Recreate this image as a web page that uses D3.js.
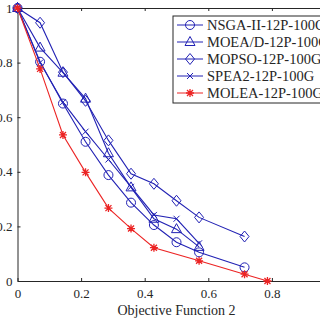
<!DOCTYPE html>
<html lang="en">
<head>
<meta charset="UTF-8"/>
<title>pareto fronts</title>
<script src="https://d3js.org/d3.v7.min.js"></script>
<style>
  body { margin: 0; background: #fff; }
  text { font-family: "Liberation Serif", "Times New Roman", serif; fill: #262626; }
</style>
</head>
<body>
<svg id="chart" width="320" height="320"></svg>
<script>
// series data
var seriesNames = ["NSGA-II-12P-100G", "MOEA/D-12P-100G", "MOPSO-12P-100G", "SPEA2-12P-100G", "MOLEA-12P-100G"]
var nsgaX  = [0, 0.071, 0.143, 0.214, 0.286, 0.357, 0.429, 0.5, 0.571, 0.714]
var nsgaY  = [1, 0.803, 0.65, 0.51, 0.388, 0.287, 0.205, 0.142, 0.105, 0.05]
var moeadX = [0, 0.071, 0.143, 0.214, 0.286, 0.357, 0.429, 0.5, 0.571]
var moeadY = [1, 0.855, 0.763, 0.668, 0.468, 0.343, 0.228, 0.19, 0.125]
var mopsoX = [0, 0.071, 0.143, 0.214, 0.286, 0.357, 0.429, 0.5, 0.571, 0.714]
var mopsoY = [1, 0.946, 0.765, 0.66, 0.515, 0.393, 0.356, 0.294, 0.233, 0.163]
var speaX  = [0, 0.071, 0.143, 0.214, 0.286, 0.357, 0.429, 0.5, 0.571]
var speaY  = [1, 0.80, 0.655, 0.547, 0.445, 0.345, 0.242, 0.228, 0.138]
var moleaX = [0, 0.071, 0.143, 0.214, 0.286, 0.357, 0.429, 0.571, 0.714, 0.786]
var moleaY = [1, 0.777, 0.535, 0.398, 0.267, 0.192, 0.122, 0.074, 0.025, 0]
var xTicks = [0, 0.2, 0.4, 0.6, 0.8]
var yTicks = [0, 0.2, 0.4, 0.6, 0.8, 1]

var blue = "#2222b4", red = "#ec2424", axisCol = "#262626"
var markers = ["circle", "triangle", "diamond", "cross", "star"]
var colors = [blue, blue, blue, blue, red]
var xsAll = [nsgaX, moeadX, mopsoX, speaX, moleaX]
var ysAll = [nsgaY, moeadY, mopsoY, speaY, moleaY]

var padL = 17.5, padT = 8, padB = 281, padR = 335.5

var svg = d3.select("#chart")

var x = d3.scaleLinear().domain([0, 1]).range([padL, padR])
var y = d3.scaleLinear().domain([0, 1]).range([padB, padT])

// axes, MATLAB style box with inward ticks
var gx = svg.append("g").attr("transform", "translate(0," + padB + ")")
  .call(d3.axisBottom(x).tickValues(xTicks).tickSizeInner(-3).tickSizeOuter(0).tickPadding(8).tickFormat(d3.format("")))
var gxt = svg.append("g").attr("transform", "translate(0," + padT + ")")
  .call(d3.axisTop(x).tickValues(xTicks).tickSizeInner(-3).tickSizeOuter(0).tickFormat(""))
var gy = svg.append("g").attr("transform", "translate(" + padL + ",0)")
  .call(d3.axisLeft(y).tickValues(yTicks).tickSizeInner(-3).tickSizeOuter(0).tickPadding(5).tickFormat(d3.format("")))
;[gx, gxt, gy].forEach(function(g) {
  g.selectAll("path,line").attr("stroke", axisCol).attr("stroke-width", 1)
  g.selectAll("text").style("font-size", "13px").attr("fill", axisCol)
    .style("font-family", "Liberation Serif, Times New Roman, serif")
})

svg.append("text").attr("x", x(0.5)).attr("y", 315)
  .attr("text-anchor", "middle").style("font-size", "14px")
  .text("Objective Function 2")

function drawMarker(g, type, cx, cy, col) {
  if (type == "circle") {
    g.append("circle").attr("cx", cx).attr("cy", cy).attr("r", 4.5)
      .attr("fill", "none").attr("stroke", col)
  } else if (type == "triangle") {
    g.append("path").attr("d", "M" + cx + "," + (cy - 5.5) + "L" + (cx + 5) + "," + (cy + 3.5) + "L" + (cx - 5) + "," + (cy + 3.5) + "Z")
      .attr("fill", "none").attr("stroke", col)
  } else if (type == "diamond") {
    g.append("path").attr("d", "M" + cx + "," + (cy - 5.5) + "L" + (cx + 4.5) + "," + cy + "L" + cx + "," + (cy + 5.5) + "L" + (cx - 4.5) + "," + cy + "Z")
      .attr("fill", "none").attr("stroke", col)
  } else if (type == "cross") {
    g.append("path").attr("d", "M" + (cx - 3) + "," + (cy - 3) + "L" + (cx + 3) + "," + (cy + 3) + "M" + (cx + 3) + "," + (cy - 3) + "L" + (cx - 3) + "," + (cy + 3))
      .attr("stroke", col)
  } else {
    g.append("path").attr("d", "M" + (cx - 4) + "," + cy + "L" + (cx + 4) + "," + cy + "M" + cx + "," + (cy - 4) + "L" + cx + "," + (cy + 4)
      + "M" + (cx - 3) + "," + (cy - 3) + "L" + (cx + 3) + "," + (cy + 3) + "M" + (cx + 3) + "," + (cy - 3) + "L" + (cx - 3) + "," + (cy + 3))
      .attr("stroke", col).attr("stroke-width", 1.3)
  }
}

var line = d3.line().x(function(d) { return x(d[0]) }).y(function(d) { return y(d[1]) })

xsAll.forEach(function(xs, i) {
  var pts = xs.map(function(v, j) { return [v, ysAll[i][j]] })
  var g = svg.append("g")
  g.append("path").attr("d", line(pts)).attr("fill", "none")
    .attr("stroke", colors[i]).attr("stroke-width", 1.1)
  pts.forEach(function(p) { drawMarker(g, markers[i], x(p[0]), y(p[1]), colors[i]) })
})

// legend
var lg = svg.append("g").attr("transform", "translate(173,16)")
lg.append("rect").attr("x", 0).attr("y", 0).attr("width", 165).attr("height", 87)
  .attr("fill", "#fff").attr("stroke", axisCol).attr("stroke-width", 1)
seriesNames.forEach(function(name, i) {
  var ry = 9 + i * 17
  lg.append("line").attr("x1", 4).attr("x2", 30).attr("y1", ry).attr("y2", ry)
    .attr("stroke", colors[i])
  drawMarker(lg, markers[i], 17, ry, colors[i])
  lg.append("text").attr("x", 34).attr("y", ry).attr("dy", "0.35em")
    .style("font-size", "14.5px").text(name)
})
</script>
</body>
</html>
